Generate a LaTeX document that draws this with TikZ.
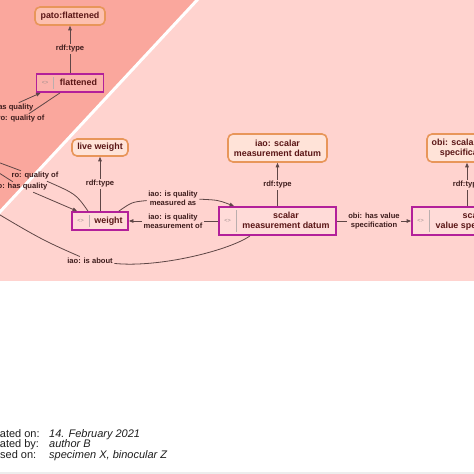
\documentclass[tikz,border=0pt]{standalone}
\usepackage{fontspec}
\setmainfont{Liberation Sans}
\usetikzlibrary{arrows.meta}
\definecolor{pinkbg}{HTML}{FFD3CF}
\definecolor{salmonbg}{HTML}{FAA79D}
\definecolor{orangeb}{HTML}{E8965A}
\definecolor{magb}{HTML}{B3209A}
\definecolor{ntext}{HTML}{5A1616}
\definecolor{ltext}{HTML}{3E1D1D}
\definecolor{edgec}{HTML}{5E4646}
\definecolor{icong}{HTML}{9C8C8C}
\definecolor{orfill}{HTML}{FFE3D8}
\definecolor{orfillS}{HTML}{FDC0B0}
\definecolor{infill}{HTML}{FFDBD8}
\definecolor{infillS}{HTML}{FBB3AC}
\definecolor{btext}{HTML}{1E1E1E}
\newcommand{\nfont}{\fontsize{8.9}{10}\selectfont\bfseries}
\newcommand{\lfont}{\fontsize{7.6}{8.8}\selectfont\bfseries}
\newcommand{\bfontx}{\fontsize{11}{11}\selectfont}
\newcommand{\instxt}[1]{\hspace*{17pt}\begin{tabular}{@{}c@{}}#1\end{tabular}}
\begin{document}
\begin{tikzpicture}[x=1pt,y=-1pt,
  cls/.style={draw=orangeb, line width=1.6pt, rounded corners=5pt, fill=#1, font=\nfont, text=ntext, align=center, inner sep=2pt},
  cls/.default=orfill,
  inst/.style={draw=magb, line width=1.8pt, fill=#1, font=\nfont, text=ntext, inner sep=2pt,
    path picture={
      \node[font=\fontsize{5.5}{6}\selectfont, text=icong, inner sep=0pt] at ([xshift=8.5pt]path picture bounding box.west) {<>};
      \draw[icong!70, line width=0.5pt] ([xshift=17pt,yshift=-3pt]path picture bounding box.north west) -- ([xshift=17pt,yshift=3pt]path picture bounding box.south west);
    }},
  inst/.default=infill,
  lbl/.style={font=\lfont, text=ltext, align=center, inner sep=1.5pt},
  ln/.style={draw=edgec, line width=0.8pt},
  arr/.style={ln, -{Triangle[length=4.5pt,width=3.6pt]}},
  foot/.style={anchor=base west, font=\bfontx, text=btext, inner sep=0pt},
]
\useasboundingbox (0,0) rectangle (474,474);
\clip (0,0) rectangle (474,474);
% backgrounds
\fill[pinkbg] (0,0) rectangle (474,281);
\fill[salmonbg] (0,0) -- (197,0) -- (0,212) -- cycle;
\draw[white, line width=3pt] (199,-2) -- (-2,214);
\fill[black!7] (0,471.5) rectangle (474,474);

% off-picture ends
\coordinate (seedA) at (-40,125);
\coordinate (seedQ) at (-40,148);
\coordinate (seedB) at (-40,191);

% nodes
\node[cls=orfillS, minimum width=70, minimum height=18] (pato) at (70,16) {pato:flattened};
\node[inst=infillS, minimum width=67, minimum height=18] (flat) at (70,83) {\instxt{flattened}};
\node[cls, minimum width=56, minimum height=17] (lw) at (100,147.5) {live weight};
\node[inst, minimum width=56, minimum height=18] (wt) at (100,221) {\instxt{weight}};
\node[cls, minimum width=99, minimum height=28] (iaot) at (277.5,148) {iao: scalar\\measurement datum};
\node[inst, minimum width=117, minimum height=28] (smd) at (277.5,221) {\instxt{scalar\\measurement datum}};
\node[inst, minimum width=110, minimum height=28] (vs) at (467,221) {\instxt{scalar\\value specification}};
\node[cls, minimum width=80, minimum height=28] (obit) at (467,148) {obi: scalar value\\specification};

% labels
\node[lbl] (l-pato) at (70,49) {rdf:type};
\node[lbl] (l-lw) at (100,184) {rdf:type};
\node[lbl] (l-iao) at (277.5,185) {rdf:type};
\node[lbl] (l-obi) at (467,185) {rdf:type};
\node[lbl] (l-qmo) at (173,221) {iao: is quality\\measurement of};
\node[lbl] (l-qma) at (173,198) {iao: is quality\\measured as};
\node[lbl] (l-hvs) at (374,221) {obi: has value\\specification};
\node[lbl] (l-about) at (90,261) {iao: is about};
\node[lbl] (l-qo2) at (35,176) {ro: quality of};
\node[lbl] (l-hq2) at (21,187) {ro: has quality};
\node[lbl] (l-hq1) at (7,108) {ro: has quality};
\node[lbl] (l-qo1) at (21,119) {ro: quality of};

% rdf:type edges
\draw[ln] (flat) -- (l-pato);
\draw[arr] (l-pato) -- (pato);
\draw[ln] (wt) -- (l-lw);
\draw[arr] (l-lw) -- (lw);
\draw[ln] (smd) -- (l-iao);
\draw[arr] (l-iao) -- (iaot);
\draw[ln] (vs) -- (l-obi);
\draw[arr] (l-obi) -- (obit);

% relations
\draw[ln] (smd) -- (l-qmo);
\draw[arr] (l-qmo) -- (wt);
\draw[ln] ([xshift=-10pt]wt.north east) .. controls (132,202) .. (l-qma);
\draw[arr] (l-qma) .. controls (218,200) .. ([xshift=16pt]smd.north west);
\draw[ln] (smd) -- (l-hvs);
\draw[arr] (l-hvs) -- (vs);
\draw[ln] ([xshift=-27.5pt]smd.south) .. controls (230,250) and (160,268) .. (l-about);
\draw[arr] (l-about) .. controls (40,239) .. (seedB);
\draw[ln] ([xshift=-12pt]wt.north) .. controls (76,194) .. (l-qo2);
\draw[arr] (l-qo2) -- (seedQ);
\draw[ln] (seedQ) -- (l-hq2);
\draw[arr] (l-hq2) -- ([xshift=6pt]wt.north west);
\draw[ln] (seedA) -- (l-hq1);
\draw[arr] (l-hq1) -- ([xshift=5pt]flat.south west);
\draw[ln] ([xshift=-10pt]flat.south) -- (l-qo1);
\draw[arr] (l-qo1) -- (seedA);

% footer
\node[foot] (f1) at (-18,437) {Created on:};
\node[foot] (f1v) at (49,437) {\itshape 14. February 2021};
\node[foot] (f2) at (-18,447.5) {Created by:};
\node[foot] (f2v) at (49,447.5) {\itshape author B};
\node[foot] (f3) at (-13.5,458) {Based on:};
\node[foot] (f3v) at (49,458) {\itshape specimen X, binocular Z};
\end{tikzpicture}
\end{document}
